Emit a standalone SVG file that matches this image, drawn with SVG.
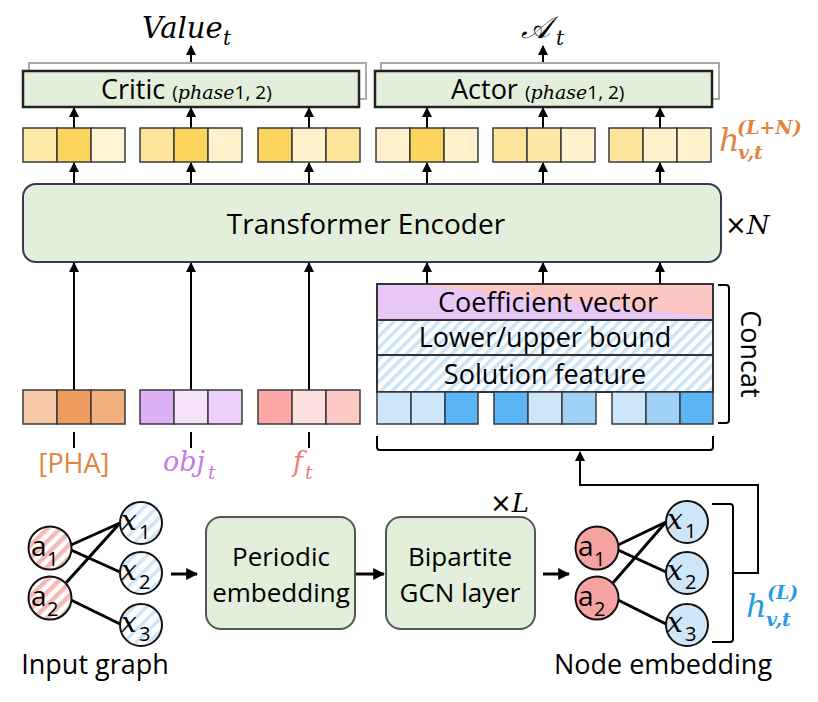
<svg xmlns="http://www.w3.org/2000/svg" width="818" height="702" viewBox="0 0 818 702">
<defs>
<marker id="ah" viewBox="0 0 10 10" refX="9" refY="5" markerWidth="10" markerHeight="10" markerUnits="userSpaceOnUse" orient="auto">
<path d="M0,0 L10,5 L0,10 z" fill="#000"/>
</marker>
<marker id="ahb" viewBox="0 0 10 10" refX="9" refY="5" markerWidth="12" markerHeight="12" markerUnits="userSpaceOnUse" orient="auto">
<path d="M0,0 L10,5 L0,10 z" fill="#000"/>
</marker>
<pattern id="hblue" width="9" height="9" patternUnits="userSpaceOnUse" patternTransform="rotate(45)">
<rect width="9" height="9" fill="#fff"/>
<rect width="3.5" height="9" fill="#cfe5f7"/>
</pattern>
<pattern id="hpink" width="9" height="9" patternUnits="userSpaceOnUse" patternTransform="rotate(45)">
<rect width="9" height="9" fill="#fff"/>
<rect width="4.5" height="9" fill="#f6b9b6"/>
</pattern>
<pattern id="hblue2" width="8" height="8" patternUnits="userSpaceOnUse" patternTransform="rotate(45)">
<rect width="8" height="8" fill="#fff"/>
<rect width="3.5" height="8" fill="#c9e3f7"/>
</pattern>
</defs>
<style>
.sans{font-family:"Open Sans","Noto Sans","Liberation Sans",sans-serif;}
.times{font-family:"DejaVu Sans","Liberation Sans",sans-serif;}
.math{font-family:"DejaVu Serif","Liberation Serif",serif;font-style:italic;}
.mathb{font-family:"DejaVu Serif","Liberation Serif",serif;font-style:italic;font-weight:bold;}
.cell{stroke:#3a3a3a;stroke-width:1.5;}
.green{fill:#e2efda;stroke:#222;stroke-width:2.5;}
.shadow{fill:#fff;stroke:#aaa;stroke-width:2;}
.box{fill:#e2efda;stroke:#505a50;stroke-width:2;}
.ln{stroke:#000;stroke-width:2;fill:none;}
.arr{stroke:#000;stroke-width:2;fill:none;marker-end:url(#ah);}
.arrb{stroke:#000;stroke-width:3;fill:none;marker-end:url(#ahb);}
.circ{stroke:#111;stroke-width:2;}
.edge{stroke:#000;stroke-width:3;}
</style>
<rect width="818" height="702" fill="#fff"/>

<!-- Connectors -->
<g id="connectors">
<line class="arr" x1="191" y1="71" x2="191" y2="46"/>
<line class="arr" x1="543" y1="71" x2="543" y2="46"/>
<line class="arr" x1="74" y1="128" x2="74" y2="108"/>
<line class="arr" x1="191" y1="128" x2="191" y2="108"/>
<line class="arr" x1="309" y1="128" x2="309" y2="108"/>
<line class="arr" x1="427" y1="128" x2="427" y2="108"/>
<line class="arr" x1="543" y1="128" x2="543" y2="108"/>
<line class="arr" x1="660" y1="128" x2="660" y2="108"/>
<line class="arr" x1="74" y1="184" x2="74" y2="163"/>
<line class="arr" x1="191" y1="184" x2="191" y2="163"/>
<line class="arr" x1="309" y1="184" x2="309" y2="163"/>
<line class="arr" x1="427" y1="184" x2="427" y2="163"/>
<line class="arr" x1="543" y1="184" x2="543" y2="163"/>
<line class="arr" x1="660" y1="184" x2="660" y2="163"/>
<line class="arr" x1="74" y1="390" x2="74" y2="263"/>
<line class="arr" x1="191" y1="390" x2="191" y2="263"/>
<line class="arr" x1="309" y1="390" x2="309" y2="263"/>
<line class="arr" x1="427" y1="284" x2="427" y2="263"/>
<line class="arr" x1="543" y1="284" x2="543" y2="263"/>
<line class="arr" x1="660" y1="284" x2="660" y2="263"/>
<line class="ln" x1="74" y1="432" x2="74" y2="448"/>
<line class="ln" x1="191" y1="432" x2="191" y2="448"/>
<line class="ln" x1="309" y1="432" x2="309" y2="448"/>
<line class="arrb" x1="171" y1="574" x2="197" y2="574"/>
<line class="arrb" x1="355" y1="574" x2="384" y2="574"/>
<line class="arrb" x1="543" y1="574" x2="569" y2="574"/>
<path class="ln" d="M377,436 V447 Q377,450 380,450 H710 Q713,450 713,447 V436"/>
<path class="ln" d="M718,285 H726 Q729,285 729,288 V420 Q729,423 726,423 H718"/>
<path class="ln" d="M712,504 H730 Q733,504 733,507 V639 Q733,642 730,642 H712"/>
<path class="arr" d="M733,573 H758 V485 H580 V452"/>
</g>

<!-- Critic -->
<g id="critic">
<rect class="shadow" x="29" y="63" width="337" height="36"/>
<rect class="green" x="23" y="71" width="336" height="36"/>
<text class="sans" x="101" y="99" font-size="27">Critic <tspan font-size="19">(</tspan><tspan class="math" font-size="19">phase</tspan><tspan font-size="19">1, 2)</tspan></text>
</g>
<g id="value-label">
<text class="math" x="142" y="38" font-size="29">Value</text>
<text class="math" x="223" y="45" font-size="20">t</text>
</g>

<!-- Actor -->
<g id="actor">
<rect class="shadow" x="381" y="63" width="338" height="36"/>
<rect class="green" x="375" y="71" width="337" height="36"/>
<text class="sans" x="451" y="99" font-size="27">Actor <tspan font-size="19">(</tspan><tspan class="math" font-size="19">phase</tspan><tspan font-size="19">1, 2)</tspan></text>
</g>
<g id="action-label">
<text class="math" x="521" y="38" font-size="31">𝒜</text>
<text class="math" x="556" y="45" font-size="20">t</text>
</g>

<!-- Output embeddings -->
<g id="output-cells">
<rect class="cell" x="23" y="128" width="34" height="34" fill="#fde9a8"/>
<rect class="cell" x="57" y="128" width="34" height="34" fill="#fcd55f"/>
<rect class="cell" x="91" y="128" width="34" height="34" fill="#fef3d2"/>
<rect class="cell" x="140" y="128" width="34" height="34" fill="#fde49a"/>
<rect class="cell" x="174" y="128" width="34" height="34" fill="#fcd55f"/>
<rect class="cell" x="208" y="128" width="34" height="34" fill="#fef1cc"/>
<rect class="cell" x="258" y="128" width="34" height="34" fill="#fcd55f"/>
<rect class="cell" x="292" y="128" width="34" height="34" fill="#fef1cc"/>
<rect class="cell" x="326" y="128" width="34" height="34" fill="#fde49a"/>
<rect class="cell" x="376" y="128" width="34" height="34" fill="#fef1cc"/>
<rect class="cell" x="410" y="128" width="34" height="34" fill="#fcd55f"/>
<rect class="cell" x="444" y="128" width="34" height="34" fill="#fef1cc"/>
<rect class="cell" x="493" y="128" width="34" height="34" fill="#fde49a"/>
<rect class="cell" x="527" y="128" width="34" height="34" fill="#fde8a8"/>
<rect class="cell" x="561" y="128" width="34" height="34" fill="#fef1cc"/>
<rect class="cell" x="609" y="128" width="34" height="34" fill="#fde49a"/>
<rect class="cell" x="643" y="128" width="34" height="34" fill="#fef1cc"/>
<rect class="cell" x="677" y="128" width="34" height="34" fill="#fef1cc"/>
</g>
<g id="h-LN-label" fill="#e0843f">
<text class="math" x="719" y="151" font-size="32">h</text>
<text class="mathb" x="737" y="134" font-size="19">(L+N)</text>
<text class="mathb" x="738" y="159" font-size="19">v,t</text>
</g>

<!-- Transformer encoder -->
<g id="transformer-encoder">
<rect x="23" y="184" width="698" height="78" rx="13" fill="#e2efda" stroke="#2e3c4e" stroke-width="2"/>
<text class="sans" x="366" y="234" font-size="28" text-anchor="middle">Transformer Encoder</text>
</g>
<g id="xN-label">
<text x="725" y="234" font-size="26"><tspan class="times">×</tspan><tspan class="math">N</tspan></text>
</g>

<!-- Concat stack -->
<g id="coefficient-vector">
<rect x="377" y="284" width="336" height="36" fill="#fcc6c2"/>
<polygon points="377,284 410,284 713,317 713,320 377,320" fill="#e8c8f6"/>
<rect x="377" y="284" width="336" height="36" fill="none" stroke="#333" stroke-width="2"/>
<text class="sans" x="548" y="312" font-size="27" text-anchor="middle">Coefficient vector</text>
</g>
<g id="bound">
<rect x="377" y="320" width="336" height="35" fill="url(#hblue2)" stroke="#333" stroke-width="2"/>
<text class="sans" x="545" y="347" font-size="27" text-anchor="middle">Lower/upper bound</text>
</g>
<g id="solution-feature">
<rect x="377" y="355" width="336" height="37" fill="url(#hblue2)" stroke="#333" stroke-width="2"/>
<text class="sans" x="545" y="384" font-size="27" text-anchor="middle">Solution feature</text>
</g>
<g id="var-cells">
<rect class="cell" x="377" y="392" width="34" height="32" fill="#cde6fa"/>
<rect class="cell" x="411" y="392" width="34" height="32" fill="#cde6fa"/>
<rect class="cell" x="445" y="392" width="33" height="32" fill="#5bb5f5"/>
<rect class="cell" x="494" y="392" width="34" height="32" fill="#5bb5f5"/>
<rect class="cell" x="528" y="392" width="34" height="32" fill="#cde6fa"/>
<rect class="cell" x="562" y="392" width="34" height="32" fill="#9fd1f7"/>
<rect class="cell" x="612" y="392" width="34" height="32" fill="#cde6fa"/>
<rect class="cell" x="646" y="392" width="34" height="32" fill="#9fd1f7"/>
<rect class="cell" x="680" y="392" width="33" height="32" fill="#5bb5f5"/>
</g>
<g id="concat-label">
<text class="sans" x="0" y="0" font-size="27" text-anchor="middle" transform="translate(741,354) rotate(90)">Concat</text>
</g>

<!-- Input token cells -->
<g id="pha-cells">
<rect class="cell" x="23" y="390" width="34" height="34" fill="#f6c9a9"/>
<rect class="cell" x="57" y="390" width="34" height="34" fill="#ee9d5e"/>
<rect class="cell" x="91" y="390" width="34" height="34" fill="#f2b07f"/>
<text class="sans" x="74" y="473" font-size="27" text-anchor="middle" fill="#e0843f">[PHA]</text>
</g>
<g id="obj-cells">
<rect class="cell" x="140" y="390" width="34" height="34" fill="#dcb0f5"/>
<rect class="cell" x="174" y="390" width="34" height="34" fill="#f5e4fc"/>
<rect class="cell" x="208" y="390" width="34" height="34" fill="#ead0fa"/>
<text class="math" x="163" y="471" font-size="27" fill="#c77ae8">obj</text>
<text class="math" x="208" y="479" font-size="19" fill="#c77ae8">t</text>
</g>
<g id="f-cells">
<rect class="cell" x="258" y="390" width="34" height="34" fill="#fba8a6"/>
<rect class="cell" x="292" y="390" width="34" height="34" fill="#fde0de"/>
<rect class="cell" x="326" y="390" width="34" height="34" fill="#fcc9c6"/>
<text class="math" x="293" y="471" font-size="27" fill="#ef7b78">f</text>
<text class="math" x="305" y="479" font-size="19" fill="#ef7b78">t</text>
</g>

<!-- Input graph -->
<g id="input-graph">
<line class="edge" x1="71" y1="545" x2="120" y2="523"/>
<line class="edge" x1="71" y1="550" x2="120" y2="572"/>
<line class="edge" x1="65" y1="584" x2="120" y2="523"/>
<line class="edge" x1="71" y1="600" x2="120" y2="624"/>
<circle class="circ" cx="50" cy="548" r="21.5" fill="url(#hpink)"/>
<circle class="circ" cx="50" cy="598" r="21.5" fill="url(#hpink)"/>
<circle class="circ" cx="141" cy="523" r="21" fill="url(#hblue)"/>
<circle class="circ" cx="141" cy="573" r="21" fill="url(#hblue)"/>
<circle class="circ" cx="141" cy="625" r="21" fill="url(#hblue)"/>
<text class="sans" x="31" y="556" font-size="28">a</text><text class="sans" x="47" y="566" font-size="20">1</text>
<text class="sans" x="31" y="606" font-size="28">a</text><text class="sans" x="47" y="616" font-size="20">2</text>
<text class="math" x="121" y="530" font-size="28">x</text><text class="sans" x="139" y="539" font-size="20">1</text>
<text class="math" x="121" y="580" font-size="28">x</text><text class="sans" x="139" y="589" font-size="20">2</text>
<text class="math" x="121" y="632" font-size="28">x</text><text class="sans" x="139" y="641" font-size="20">3</text>
<text class="sans" x="95" y="674" font-size="27" text-anchor="middle">Input graph</text>
</g>

<g id="periodic-embedding">
<rect class="box" x="206" y="517" width="149" height="112" rx="15"/>
<text class="sans" x="281" y="566" font-size="26" text-anchor="middle">Periodic</text>
<text class="sans" x="281" y="602" font-size="26" text-anchor="middle">embedding</text>
</g>

<g id="bipartite-gcn">
<rect class="box" x="386" y="517" width="149" height="112" rx="15"/>
<text class="sans" x="460" y="566" font-size="26" text-anchor="middle">Bipartite</text>
<text class="sans" x="460" y="602" font-size="26" text-anchor="middle">GCN layer</text>
</g>
<g id="xL-label">
<text x="490" y="512" font-size="26"><tspan class="times">×</tspan><tspan class="math">L</tspan></text>
</g>

<!-- Node embedding -->
<g id="node-embedding">
<line class="edge" x1="618" y1="545" x2="666" y2="522"/>
<line class="edge" x1="618" y1="550" x2="666" y2="572"/>
<line class="edge" x1="612" y1="584" x2="666" y2="522"/>
<line class="edge" x1="618" y1="600" x2="666" y2="624"/>
<circle class="circ" cx="597" cy="548" r="21.5" fill="#f4a3a0"/>
<circle class="circ" cx="597" cy="598" r="21.5" fill="#f4a3a0"/>
<circle class="circ" cx="687" cy="522" r="21" fill="#cfe6f8"/>
<circle class="circ" cx="687" cy="573" r="21" fill="#cfe6f8"/>
<circle class="circ" cx="687" cy="625" r="21" fill="#cfe6f8"/>
<text class="sans" x="578" y="556" font-size="28">a</text><text class="sans" x="594" y="566" font-size="20">1</text>
<text class="sans" x="578" y="606" font-size="28">a</text><text class="sans" x="594" y="616" font-size="20">2</text>
<text class="math" x="667" y="529" font-size="28">x</text><text class="sans" x="685" y="538" font-size="20">1</text>
<text class="math" x="667" y="580" font-size="28">x</text><text class="sans" x="685" y="589" font-size="20">2</text>
<text class="math" x="667" y="632" font-size="28">x</text><text class="sans" x="685" y="641" font-size="20">3</text>
<text class="sans" x="663" y="674" font-size="27" text-anchor="middle">Node embedding</text>
</g>
<g id="h-L-label" fill="#2a9be0">
<text class="math" x="746" y="617" font-size="32">h</text>
<text class="mathb" x="767" y="599" font-size="19">(L)</text>
<text class="mathb" x="766" y="626" font-size="19">v,t</text>
</g>
</svg>
